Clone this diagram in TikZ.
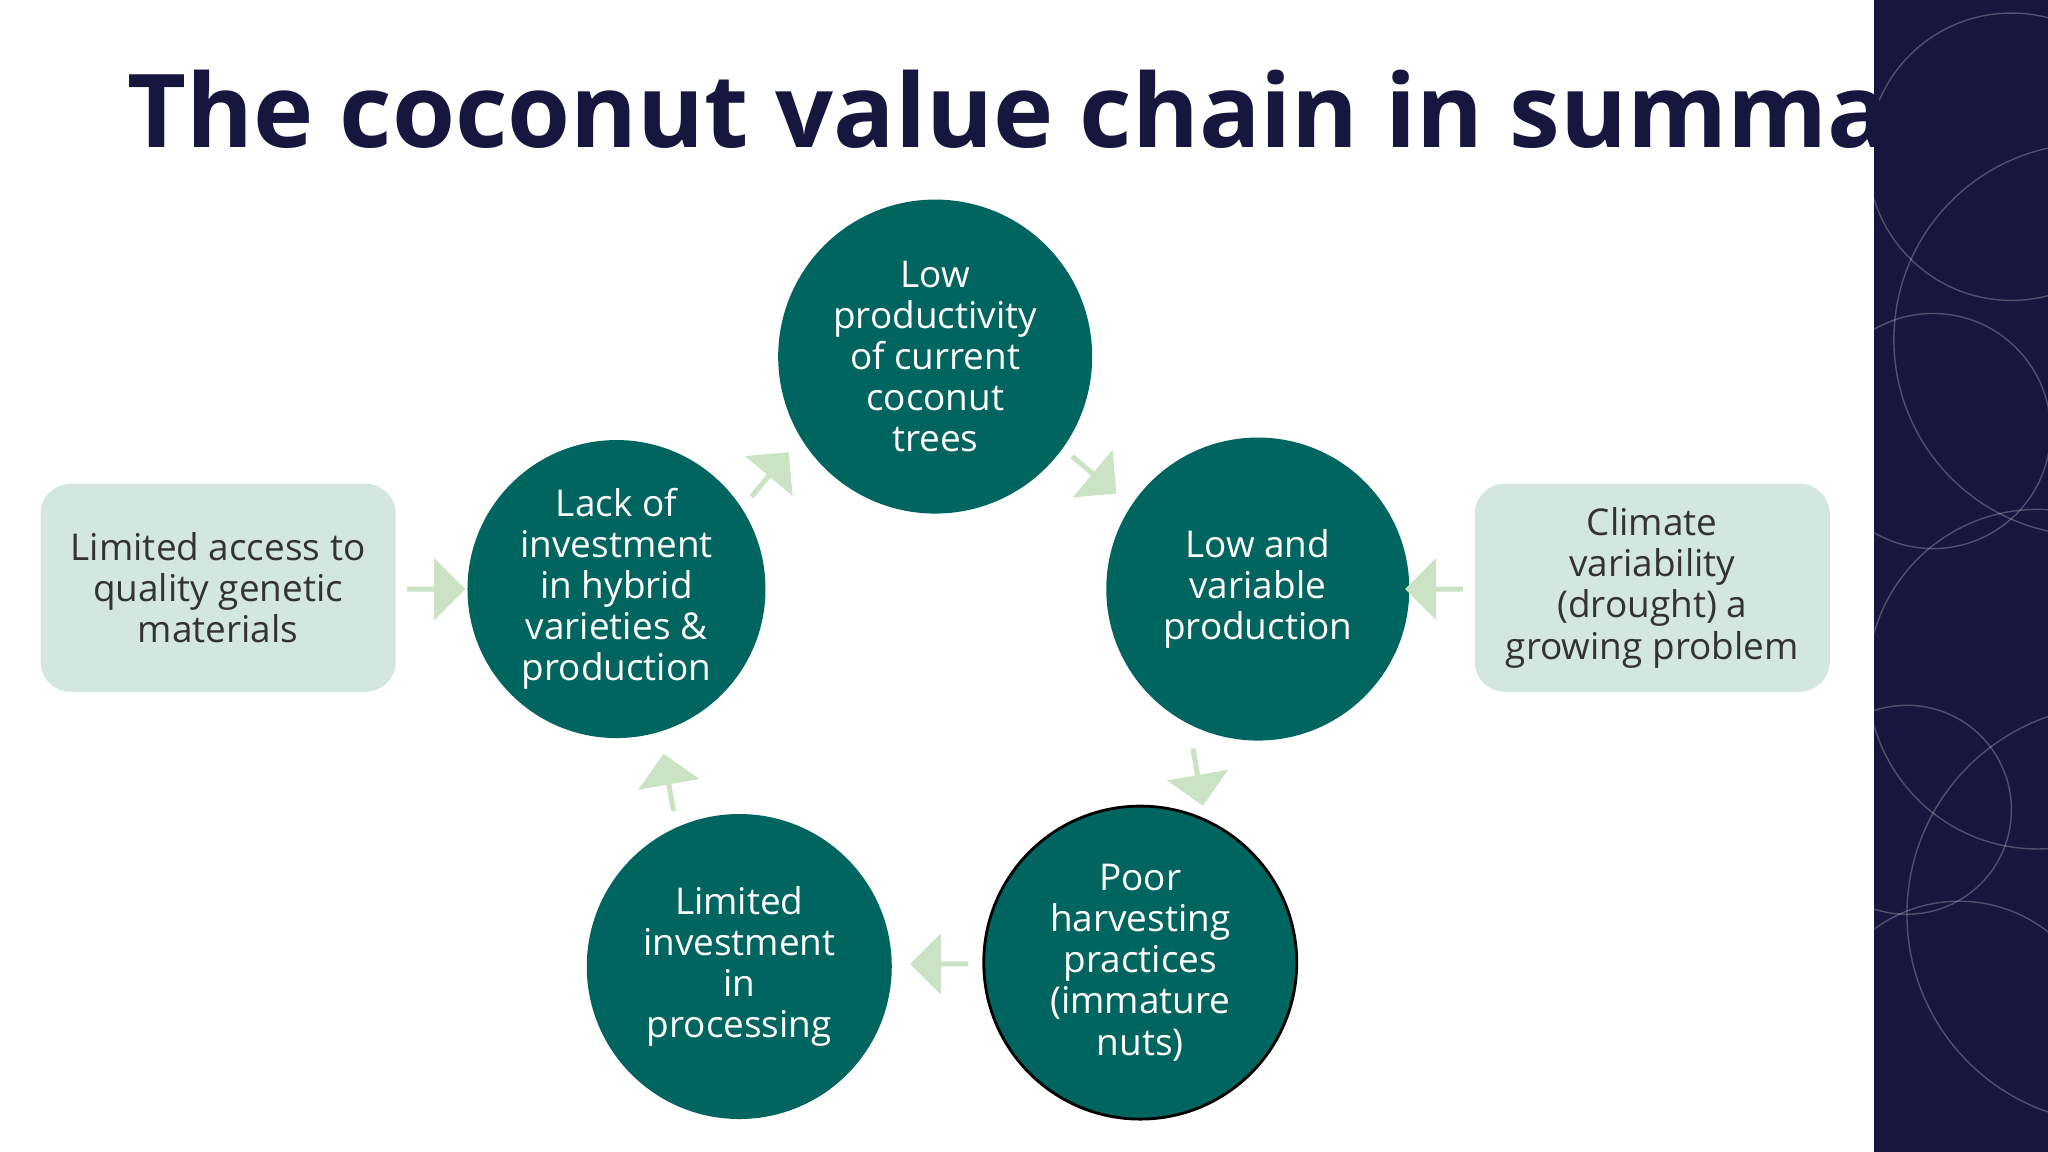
\documentclass[tikz,border=0pt]{standalone}
\usepackage{fontspec}
\setmainfont{Open Sans}
\usetikzlibrary{shapes.arrows}
\definecolor{navy}{HTML}{16163F}
\definecolor{teal}{HTML}{00645F}
\definecolor{pale}{HTML}{D3E6E0}
\definecolor{leaf}{HTML}{CBE3C4}
\tikzset{
  stage/.style={circle, fill=teal, text=white, align=center, inner sep=0pt,
    font=\fontsize{10.5}{11.7}\selectfont},
  cause/.style={rounded corners=0.3cm, fill=pale, text=black!80, align=center,
    minimum width=3.55cm, minimum height=2.08cm, font=\fontsize{10.5}{11.7}\selectfont},
  nudge/.style={single arrow, fill=leaf, minimum height=0.58cm, minimum width=0.62cm,
    single arrow head extend=0.08cm, inner sep=0pt}
}
\begin{document}
\begin{tikzpicture}[x=0.01306cm, y=-0.01306cm]
    \useasboundingbox (0,0) rectangle (1568,882);
    \fill[white] (0,0) rectangle (1568,882);
% side band
    \fill[navy] (1435,0) rectangle (1568,882);
    \begin{scope}
        \clip (1435,0) rectangle (1568,882);
        \foreach \cx/\cy/\r in {1540/120/110, 1600/260/150, 1480/330/90, 1560/520/130, 1620/700/160, 1500/800/110, 1460/620/80}
            \draw[white, opacity=0.25, line width=0.4pt] (\cx,\cy) circle (\r);
    \end{scope}

    \node[anchor=base west, text=navy, font=\fontsize{29}{32}\selectfont\bfseries] (title) at (88,113) {The coconut value chain in summary};

% cycle
    \node[stage, minimum size=3.14cm] (trees) at (716,273) {Low\\productivity\\of current\\coconut\\trees};
    \node[stage, minimum size=3.03cm] (prod) at (963,451) {Low and\\variable\\production};
    \node[stage, minimum size=3.13cm, draw=black, line width=0.8pt] (harv) at (873,737) {Poor\\harvesting\\practices\\(immature\\nuts)};
    \node[stage, minimum size=3.05cm] (proc) at (566,740) {Limited\\investment\\in\\processing};
    \node[stage, minimum size=2.98cm] (hyb) at (472,451) {Lack of\\investment\\in hybrid\\varieties \&\\production};

    \node[cause] (genetic) at (167,450) {Limited access to\\quality genetic\\materials};
    \node[cause] (climate) at (1265,450) {Climate\\variability\\(drought) a\\growing problem};

% arrows
    \node[nudge, rotate=50] (a1) at (589,364) {};
    \node[nudge, rotate=-40] (a2) at (837,363) {};
    \node[nudge, rotate=-80] (a3) at (917,594) {};
    \node[nudge, rotate=180] (a4) at (720,738) {};
    \node[nudge, rotate=100] (a5) at (512,600) {};
    \node[nudge] (a6) at (333,451) {};
    \node[nudge, rotate=180] (a7) at (1099,451) {};
\end{tikzpicture}
\end{document}
